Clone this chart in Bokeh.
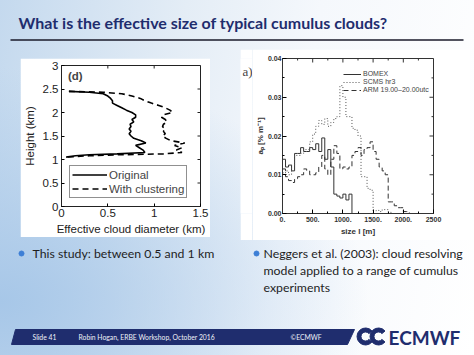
import math
from bokeh.plotting import figure
from bokeh.layouts import column, row
from bokeh.models import (Range1d, Label, Legend, LegendItem, FixedTicker, Spacer)
from bokeh.embed import file_html
from bokeh.resources import INLINE

# ---------------- texts ----------------
TITLE = "What is the effective size of typical cumulus clouds?"
BULLET_LEFT = ["This study: between 0.5 and 1 km"]
BULLET_RIGHT = ["Neggers et al. (2003): cloud resolving",
                "model applied to a range of cumulus",
                "experiments"]
FOOTER = ["Slide 41", "Robin Hogan, ERBE Workshop, October 2016", "\u00a9ECMWF"]

# ---------------- left panel (d) data ----------------
height_km = [2.45, 2.43, 2.40, 2.35, 2.30, 2.25, 2.20, 2.15, 2.10, 2.05, 2.00,
             1.95, 1.90, 1.85, 1.80, 1.75, 1.70, 1.65, 1.60, 1.55, 1.50, 1.45,
             1.40, 1.35, 1.30, 1.25, 1.20, 1.15, 1.12, 1.10, 1.08, 1.05]
diam_original = [0.08, 0.30, 0.45, 0.50, 0.53, 0.55, 0.55, 0.60, 0.65, 0.70, 0.76,
                 0.80, 0.80, 0.76, 0.78, 0.74, 0.75, 0.73, 0.75, 0.73, 0.75, 0.78,
                 0.86, 0.91, 0.80, 0.84, 0.88, 0.90, 0.60, 0.30, 0.15, 0.05]
diam_clustering = [0.08, 0.45, 0.65, 0.76, 0.85, 0.90, 0.97, 1.05, 1.12, 1.17, 1.20,
                   1.10, 1.08, 1.12, 1.14, 1.10, 1.09, 1.12, 1.10, 1.12, 1.09, 1.13,
                   1.18, 1.33, 1.22, 1.30, 1.24, 1.30, 1.10, 0.60, 0.30, 0.05]
d_xticks = [0, 0.5, 1, 1.5]
d_xlabels = ["0", "0.5", "1", "1.5"]
d_yticks = [0, 0.5, 1, 1.5, 2, 2.5, 3]
d_ylabels = ["0", "0.5", "1", "1.5", "2", "2.5", "3"]

# ---------------- right panel a) data ----------------
size_edges_m = list(range(0, 2150, 50))   # 50 m bin edges
bomex = [0.0140, 0.0120, 0.0125, 0.0110, 0.0155, 0.0155, 0.0170, 0.0160, 0.0160,
         0.0170, 0.0165, 0.0180, 0.0160, 0.0195, 0.0140, 0.0165, 0.0120, 0.0050,
         0.0045, 0.0040, 0.0050, 0.0035, 0.0050]
scms = [0.0105, 0.0110, 0.0100, 0.0125, 0.0150, 0.0150, 0.0155, 0.0165, 0.0165,
        0.0185, 0.0205, 0.0225, 0.0240, 0.0230, 0.0245, 0.0225, 0.0235, 0.0245,
        0.0250, 0.0330, 0.0300, 0.0250, 0.0250, 0.0220, 0.0215, 0.0200, 0.0095,
        0.0095, 0.0065, 0.0060, 0.0000, 0.0008, 0.0005, 0.0010, 0.0010, 0.0003]
arm = [0.0115, 0.0095, 0.0085, 0.0080, 0.0090, 0.0095, 0.0100, 0.0115, 0.0110,
       0.0100, 0.0100, 0.0105, 0.0120, 0.0150, 0.0115, 0.0100, 0.0140, 0.0175,
       0.0155, 0.0115, 0.0120, 0.0115, 0.0120, 0.0150, 0.0160, 0.0170, 0.0150,
       0.0165, 0.0170, 0.0185, 0.0160, 0.0140, 0.0120, 0.0110, 0.0100, 0.0030,
       0.0030, 0.0020, 0.0015, 0.0015, 0.0005, 0.0005]
series_names = ["BOMEX", "SCMS hr3", "ARM 19.00\u201320.00utc"]
a_xticks = [0, 500, 1000, 1500, 2000, 2500]
a_xminor = [250, 750, 1250, 1750, 2250]
a_xlabels = ["0.", "500.", "1000.", "1500.", "2000.", "2500"]
a_yticks = [0.0, 0.01, 0.02, 0.03, 0.04]
a_yminor = [0.005, 0.015, 0.025, 0.035]
a_ylabels = ["0.00", "0.01", "0.02", "0.03", "0.04"]

NAVY = "#1f2d6e"
SANS = "Liberation Sans"
SLIDE = "Lato"


def deco(w, h, x0, x1, y_top, y_bottom, fill=None):
    f = figure(width=w, height=h, x_range=Range1d(x0, x1),
               y_range=Range1d(y_bottom, y_top), output_backend="svg",
               toolbar_location=None, min_border=0,
               x_axis_location=None, y_axis_location=None)
    f.grid.visible = False
    f.outline_line_color = None
    if fill is None:
        f.background_fill_alpha = 0
        f.border_fill_alpha = 0
    else:
        f.background_fill_color = fill
        f.border_fill_color = fill
    return f


def mirror_ticks(p, xt, yt, length, color):
    # inward ticks on the top and right frame edges
    p.ray(x=xt, y=[p.y_range.end] * len(xt), length=length, length_units="screen",
          angle=-math.pi / 2, line_color=color, line_width=1)
    p.ray(x=[p.x_range.end] * len(yt), y=yt, length=length, length_units="screen",
          angle=math.pi, line_color=color, line_width=1)


# ---------------- title ----------------
tf = deco(474, 49, 0, 474, 0, 49)
tf.add_layout(Label(x=18, y=22, text=TITLE, text_font=SLIDE, text_font_style="bold",
                    text_font_size="16px", text_color=NAVY, text_baseline="middle"))
tf.segment(x0=[10], y0=[39.5], x1=[463], y1=[39.5], line_color="#1a1a2a", line_width=1.5)

# ---------------- left chart ----------------
lp = figure(width=190, height=179, x_range=Range1d(0, 1.5), y_range=Range1d(0, 3),
            output_backend="svg", toolbar_location=None,
            min_border_left=40, min_border_right=10, min_border_top=7, min_border_bottom=31)
lp.grid.visible = False
lp.outline_line_color = "#222222"
lp.background_fill_color = "white"
lp.border_fill_color = "white"
r_orig = lp.line(diam_original, height_km, line_color="black", line_width=1.6)
r_clus = lp.line(diam_clustering, height_km, line_color="black", line_width=1.6,
                 line_dash="6 4")
lp.xaxis.ticker = FixedTicker(ticks=d_xticks)
lp.yaxis.ticker = FixedTicker(ticks=d_yticks)
lp.xaxis.major_label_overrides = dict(zip(d_xticks, d_xlabels))
lp.yaxis.major_label_overrides = dict(zip(d_yticks, d_ylabels))
lp.xaxis.axis_label = "Effective cloud diameter (km)"
lp.yaxis.axis_label = "Height (km)"
for ax in (lp.xaxis[0], lp.yaxis[0]):
    ax.major_tick_in = 3
    ax.major_tick_out = 0
    ax.minor_tick_line_color = None
    ax.major_label_text_font = SANS
    ax.major_label_text_font_size = "11.5px"
    ax.major_label_text_color = "#222222"
    ax.axis_label_text_font = SANS
    ax.axis_label_text_font_size = "11.5px"
    ax.axis_label_text_font_style = "normal"
    ax.axis_label_text_color = "#222222"
    ax.axis_line_color = "#222222"
    ax.major_label_standoff = 3
    ax.axis_label_standoff = 4
lp.xaxis.major_label_standoff = 2
lp.xaxis.axis_label_standoff = 3
mirror_ticks(lp, d_xticks, d_yticks, 3, "#222222")
lp.add_layout(Label(x=0.07, y=2.78, text="(d)", text_font=SANS, text_font_style="bold",
                    text_font_size="11.5px", text_baseline="middle"))
leg_l = Legend(items=[LegendItem(label="Original", renderers=[r_orig]),
                      LegendItem(label="With clustering", renderers=[r_clus])],
               location=(8, 8), label_text_font=SANS, label_text_font_size="11.5px",
               glyph_width=35, glyph_height=13, label_height=13, label_standoff=2,
               spacing=1, padding=2, margin=0, border_line_color="#222222",
               border_line_width=1, background_fill_color="white")
lp.add_layout(leg_l)

# ---------------- right chart ----------------
af = deco(12, 191, 0, 1, 0, 1, fill="white")
af.add_layout(Label(x=1.0, y=0.085, text="a)", text_font="Liberation Serif",
                    text_font_size="13px", text_align="right", text_baseline="middle"))

rp = figure(width=218, height=191, x_range=Range1d(0, 2500), y_range=Range1d(0, 0.04),
            output_backend="svg", toolbar_location=None,
            min_border_left=26, min_border_right=37, min_border_top=9, min_border_bottom=27)
rp.grid.visible = False
rp.outline_line_color = "#333333"
rp.border_fill_color = "white"
lw = 1.0
r_b = rp.step(size_edges_m[:len(bomex) + 1], bomex + [0.0], mode="after",
              line_color="#333333", line_width=lw)
r_s = rp.step(size_edges_m[:len(scms) + 1], scms + [0.0], mode="after",
              line_color="#555555", line_width=lw, line_dash="1 2")
r_a = rp.step(size_edges_m[:len(arm) + 1], arm + [0.0], mode="after",
              line_color="#333333", line_width=lw, line_dash="5 3")
rp.xaxis.ticker = FixedTicker(ticks=a_xticks, minor_ticks=a_xminor)
rp.yaxis.ticker = FixedTicker(ticks=a_yticks, minor_ticks=a_yminor)
rp.xaxis.major_label_overrides = dict(zip(a_xticks, a_xlabels))
rp.yaxis.major_label_overrides = dict(zip(a_yticks, a_ylabels))
rp.xaxis.axis_label = "size l [m]"
rp.yaxis.axis_label = "a\u209a [% m\u207b\u00b9]"
for ax in (rp.xaxis[0], rp.yaxis[0]):
    ax.major_tick_in = 4
    ax.major_tick_out = 0
    ax.minor_tick_in = 2
    ax.minor_tick_out = 0
    ax.major_label_text_font = SANS
    ax.major_label_text_font_size = "7px"
    ax.major_label_text_font_style = "bold"
    ax.major_label_text_color = "#333333"
    ax.axis_label_text_font = SANS
    ax.axis_label_text_font_size = "8px"
    ax.axis_label_text_font_style = "bold"
    ax.axis_label_text_color = "#333333"
    ax.axis_line_color = "#333333"
    ax.major_label_standoff = 3
    ax.axis_label_standoff = 2
rp.yaxis.major_label_standoff = 1
rp.yaxis.axis_label_standoff = 0
mirror_ticks(rp, a_xticks, a_yticks, 4, "#333333")
mirror_ticks(rp, a_xminor, a_yminor, 2, "#333333")
leg_r = Legend(items=[LegendItem(label=series_names[0], renderers=[r_b]),
                      LegendItem(label=series_names[1], renderers=[r_s]),
                      LegendItem(label=series_names[2], renderers=[r_a])],
               location=(61, 120), label_text_font=SANS, label_text_font_size="7px",
               glyph_width=18, glyph_height=6, label_height=6, label_standoff=2,
               spacing=1, padding=0, margin=0, border_line_color=None,
               background_fill_alpha=0)
rp.add_layout(leg_r)

mid = row(Spacer(width=20, height=191),
          column(Spacer(width=190, height=9), lp, Spacer(width=190, height=3)),
          Spacer(width=30, height=191), af, rp, Spacer(width=4, height=191))

# ---------------- bullets ----------------
bf = deco(474, 82, 0, 474, 240, 322)
bf.scatter(x=[21, 256], y=[253, 253], size=5, color="#3d7fd6", marker="circle")
bf.add_layout(Label(x=32, y=253, text=BULLET_LEFT[0], text_font=SLIDE,
                    text_font_size="12.3px", text_color="#1e1e1e", text_baseline="middle"))
for i, t in enumerate(BULLET_RIGHT):
    bf.add_layout(Label(x=263, y=253 + 17 * i, text=t, text_font=SLIDE,
                        text_font_size="12.3px", text_color="#1e1e1e",
                        text_baseline="middle"))

# ---------------- footer ----------------
ff = deco(474, 33, 0, 474, 322, 355)
ff.patch(x=[15, 354, 347, 11], y=[329, 329, 344, 344], color=NAVY)
for xx, t in zip([32, 78, 290], FOOTER):
    ff.add_layout(Label(x=xx, y=336.5, text=t, text_font=SLIDE, text_font_size="6.8px",
                        text_color="#eef1f8", text_baseline="middle"))
ff.annular_wedge(x=[365, 378], y=[336, 336], inner_radius=4.5, outer_radius=8.5,
                 start_angle=0.7, end_angle=5.58, color=NAVY)
ff.add_layout(Label(x=388, y=336.5, text="ECMWF", text_font=SLIDE, text_font_style="bold",
                    text_font_size="19px", text_color=NAVY, text_baseline="middle"))

page = column(tf, mid, bf, ff, spacing=0,
              styles={"background": "radial-gradient(ellipse at 0% 85%, #a7c7e8 0%, "
                                    "rgba(255,255,255,0) 55%), linear-gradient(100deg, "
                                    "#c4d9ee 0%, #e4edf6 35%, #f5f8fc 60%, #ffffff 100%)"})

open("out.html", "w").write(file_html(page, INLINE))
